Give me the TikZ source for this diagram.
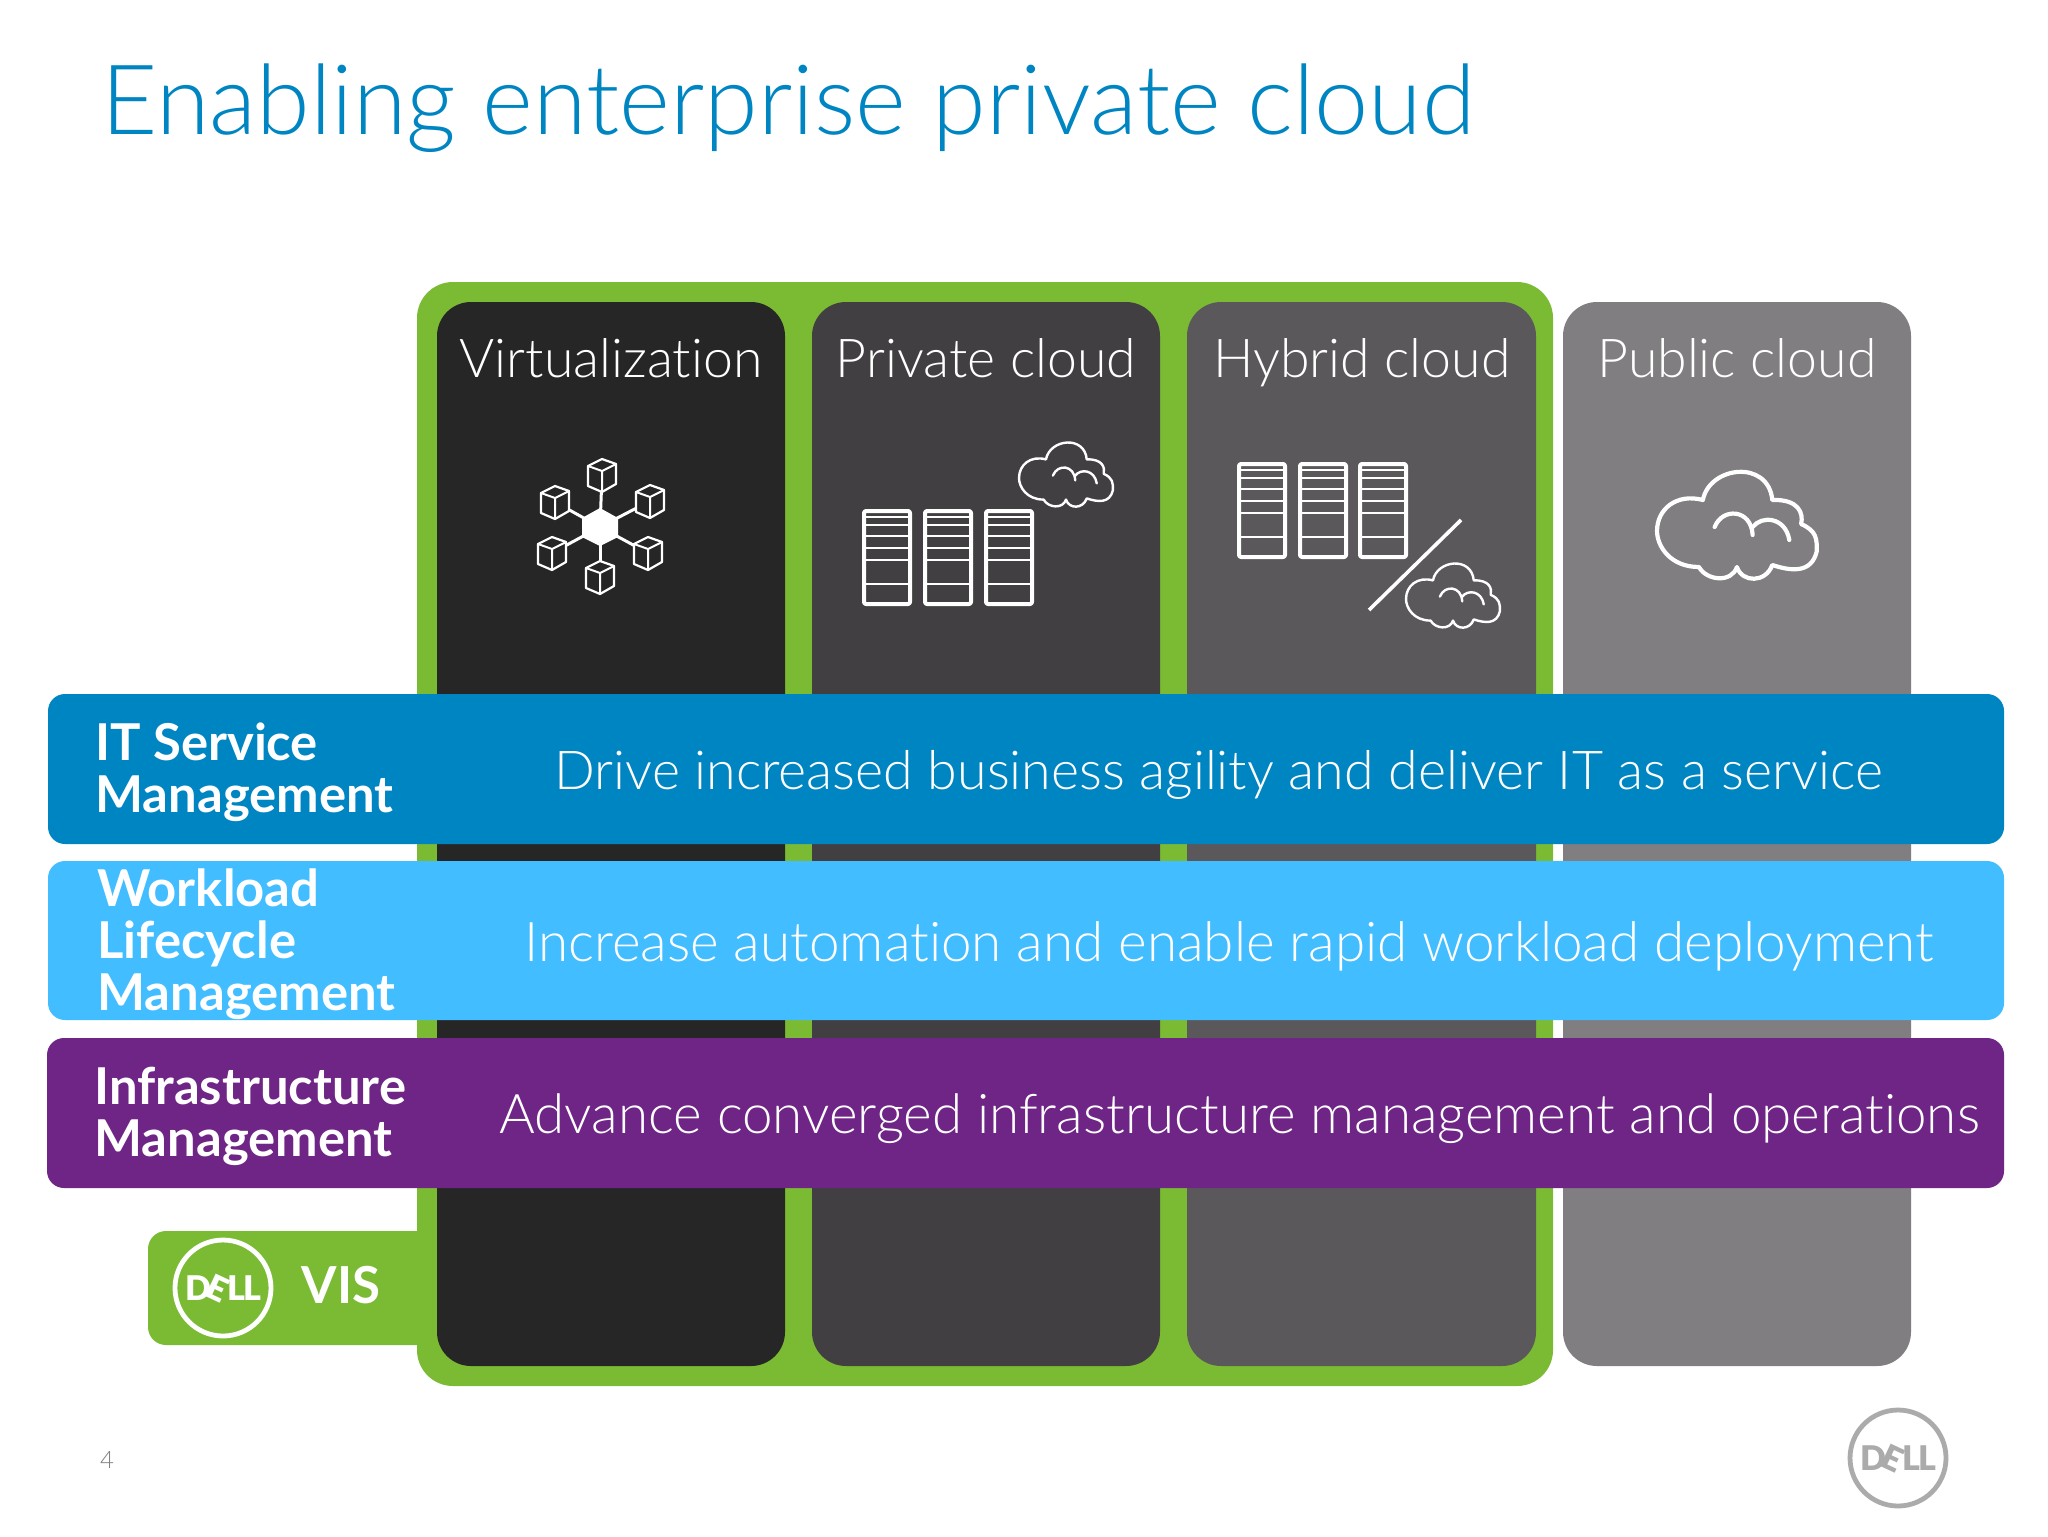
\documentclass[tikz,border=0pt]{standalone}
\usepackage{fontspec}
\setmainfont{Lato}
\newfontfamily\lightf[Ligatures=NoCommon]{Lato Light}
\newfontfamily\boldf[Ligatures=NoCommon]{Lato Bold}
\newfontfamily\blackf{Lato Black}
\definecolor{dellblue}{HTML}{0085C3}
\definecolor{dellsky}{HTML}{42BDFF}
\definecolor{dellpurple}{HTML}{6E2585}
\definecolor{dellgreen}{HTML}{7BBB33}
\definecolor{colone}{HTML}{272627}
\definecolor{coltwo}{HTML}{413F41}
\definecolor{colthree}{HTML}{5A585B}
\definecolor{colfour}{HTML}{807E80}
\tikzset{
  column/.style={fill=#1,rounded corners=17pt},
  band/.style={fill=#1,rounded corners=8.5pt},
  coltitle/.style={anchor=base,inner sep=0,text=white,font=\lightf\fontsize{26.8}{30}\selectfont},
  bandtitle/.style={anchor=center,inner sep=0,align=left,text=white,font=\boldf\fontsize{25.4}{26}\selectfont},
  bandtext/.style={anchor=base,inner sep=0,text=white,font=\lightf\fontsize{#1}{30}\selectfont},
  icon/.style={draw=white,line join=round,line cap=round},
  logoletter/.style={inner sep=0,anchor=center,font=\blackf\fontsize{17}{17}\selectfont},
  pics/cloud/.style={code={
    \draw[icon] (35,29) .. controls (40,-5) and (85,-12) .. (88,29)
      .. controls (108,28) and (112,42) .. (110,53)
      .. controls (122,60) and (122,68) .. (122,80)
      .. controls (118,103) and (102,100) .. (88,94)
      .. controls (83,112) and (65,112) .. (61,96)
      .. controls (57,112) and (38,110) .. (32,96)
      .. controls (10,96) and (0,75) .. (0,60)
      .. controls (0,38) and (15,22) .. (35,29) -- cycle;
    \draw[icon] (44,56) .. controls (50,36) and (72,38) .. (73,64);
    \draw[icon] (73,56) .. controls (80,44) and (98,46) .. (101,69);
  }},
  pics/rack/.style={code={
    \draw[icon,line width=2pt,rounded corners=1pt] (0,0) rectangle (46,93);
    \foreach \ya in {14,25,37,49,73}{\draw[icon,line width=1.2pt,line cap=butt] (0,\ya) -- (46,\ya);}
    \draw[icon,line width=.6pt,line cap=butt] (0,6) -- (46,6);
  }},
  pics/cube/.style={code={
    \draw[icon,line width=1.1pt] (-14,-9) -- (0,-16) -- (14,-11) -- (14,9) -- (0,17) -- (-14,11) -- cycle;
    \draw[icon,line width=1pt] (-14,-9) -- (0,-4) -- (14,-11) (0,-4) -- (0,17);
  }},
  pics/delllogo/.style={code={
    \draw[draw=#1,line width=2.4pt] (0,0) circle[radius=48];
    \node[name=-d,logoletter,text=#1] at (-25,0) {D};
    \node[name=-e,logoletter,text=#1,rotate=-25] at (-5,0) {E};
    \node[name=-l,logoletter,text=#1] at (13,0) {L};
    \node[name=-m,logoletter,text=#1] at (29,0) {L};
  }},
}
\begin{document}
\begin{tikzpicture}[x=0.5pt,y=-0.5pt]
\useasboundingbox (0,0) rectangle (2048,1536);
\fill[white] (0,0) rectangle (2048,1536);

\node[anchor=base west,inner sep=0,text=dellblue,font=\lightf\fontsize{48.6}{50}\selectfont] (title) at (101,134) {Enabling enterprise private cloud};

% green frame and VIS tab
\fill[dellgreen,rounded corners=9pt] (148,1231) -- (148,1345) -- (440,1345) -- (440,1231) -- cycle;
\fill[dellgreen,rounded corners=18pt] (417,282) rectangle (1553,1386);

% columns
\fill[column=colone] (437,302) rectangle (785,1366);
\fill[column=coltwo] (812,302) rectangle (1160,1366);
\fill[column=colthree] (1187,302) rectangle (1536,1366);
\fill[column=colfour] (1563,302) rectangle (1911,1366);

\node[coltitle] (virt) at (611,377) {Virtualization};
\node[coltitle] (priv) at (986,377) {Private cloud};
\node[coltitle] (hybr) at (1362,377) {Hybrid cloud};
\node[coltitle] (publ) at (1737,377) {Public cloud};

% virtualization icon
\coordinate (cubea) at (602,475);
\coordinate (cubeb) at (650,501);
\coordinate (cubec) at (648,553);
\coordinate (cubed) at (600,577);
\coordinate (cubee) at (552,553);
\coordinate (cubef) at (555,502);
\fill[white] (600,508) -- (618,518) -- (618,537) -- (600,546) -- (582,537) -- (582,518) -- cycle;
\coordinate (hub) at (600,527);
\foreach \c in {cubea,cubeb,cubec,cubed,cubee,cubef}{
  \draw[white,line width=1.5pt,shorten >=8pt] (hub) -- (\c);
  \pic at (\c) {cube};
}

% private cloud icon
\pic at (864,511) {rack};
\pic at (925,511) {rack};
\pic at (986,511) {rack};
\coordinate (cloudp) at (1019,442);
\pic[xscale=.77,yscale=.6,line width=1.2pt] at (cloudp) {cloud};

% hybrid cloud icon
\pic at (1239,464) {rack};
\pic at (1300,464) {rack};
\pic at (1360,464) {rack};
\coordinate (slasha) at (1461,520);
\coordinate (slashb) at (1369,610);
\draw[white,line width=1.8pt] (slasha) -- (slashb);
\coordinate (cloudh) at (1406,563);
\pic[xscale=.77,yscale=.6,line width=1.2pt] at (cloudh) {cloud};

% public cloud icon
\coordinate (cloudq) at (1657,471);
\pic[xscale=1.31,line width=2.1pt] at (cloudq) {cloud};

% bands
\fill[band=dellblue] (48,694) rectangle (2004,844);
\fill[band=dellsky] (48,861) rectangle (2004,1020);
\fill[band=dellpurple] (47,1038) rectangle (2004,1188);

\node[bandtitle,anchor=west] (itsm) at (95,772) {IT Service\\Management};
\node[bandtitle,anchor=west] (wlm) at (97,944) {Workload\\Lifecycle\\Management};
\node[bandtitle,anchor=west] (infra) at (94,1116) {Infrastructure\\Management};

\node[bandtext=26.85] (drive) at (1218.5,789) {Drive increased business agility and deliver IT as a service};
\node[bandtext=27.4] (incr) at (1229,961) {Increase automation and enable rapid workload deployment};
\node[bandtext=27.35] (adv) at (1239.5,1133) {Advance converged infrastructure management and operations};

% VIS tab
\pic at (223,1288) {delllogo=white};
\node[inner sep=0,text=white,font=\boldf\fontsize{25.5}{30}\selectfont] (vis) at (341,1285) {VIS};

% footer
\node[inner sep=0,text=gray,font=\lightf\fontsize{12}{14}\selectfont] (pagenum) at (107,1460) {4};
\pic at (1898,1458) {delllogo=black!33};
\end{tikzpicture}
\end{document}
